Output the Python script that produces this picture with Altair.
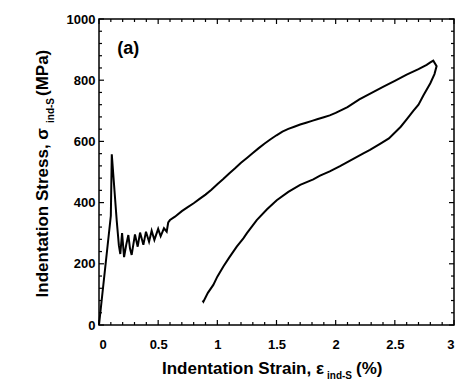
import altair as alt
import pandas as pd

# Loading branch (strain %, stress MPa)
load_x = [0.0, 0.100, 0.108, 0.150, 0.168, 0.180, 0.195, 0.212, 0.230, 0.248, 0.262, 0.276,
          0.304, 0.327, 0.347, 0.375, 0.397, 0.423, 0.445, 0.468, 0.500, 0.521, 0.549,
          0.572, 0.585, 0.600, 0.642, 0.700, 0.750, 0.800, 0.850, 0.900, 0.950, 1.000,
          1.050, 1.100, 1.150, 1.200, 1.250, 1.300, 1.350, 1.400, 1.450, 1.500, 1.550,
          1.600, 1.650, 1.700, 1.750, 1.800, 1.850, 1.900, 1.950, 2.000, 2.100, 2.200,
          2.300, 2.400, 2.500, 2.600, 2.700, 2.769, 2.800, 2.825]
load_y = [0, 357, 558, 340, 260, 232, 300, 222, 262, 294, 250, 229,
          296, 256, 302, 262, 305, 272, 308, 278, 314, 290, 316,
          305, 335, 343, 354, 372, 385, 398, 412, 426, 442, 460,
          477, 495, 512, 530, 546, 562, 578, 593, 607, 620, 632,
          641, 648, 655, 661, 667, 673, 679, 685, 693, 712, 737,
          758, 778, 798, 818, 836, 850, 858, 864]

# Unloading branch
unload_x = [2.853, 2.835, 2.800, 2.741, 2.700, 2.656, 2.600, 2.550, 2.450, 2.375, 2.290,
            2.234, 2.149, 2.037, 1.950, 1.868, 1.811, 1.700, 1.600, 1.502, 1.420, 1.333,
            1.250, 1.220, 1.164, 1.100, 1.051, 1.000, 0.966, 0.920, 0.882, 0.875]
unload_y = [846, 820, 790, 750, 720, 700, 672, 648, 610, 592, 572,
            561, 543, 519, 502, 488, 476, 458, 435, 408, 378, 343,
            300, 283, 256, 220, 191, 158, 131, 105, 76, 80]

x_major = [0, 0.5, 1, 1.5, 2, 2.5, 3]
x_minor = [0.1, 0.2, 0.3, 0.4, 0.6, 0.7, 0.8, 0.9, 1.1, 1.2, 1.3, 1.4, 1.6, 1.7, 1.8, 1.9,
           2.1, 2.2, 2.3, 2.4, 2.6, 2.7, 2.8, 2.9]
y_major = [0, 200, 400, 600, 800, 1000]
y_minor = [40, 80, 120, 160, 240, 280, 320, 360, 440, 480, 520, 560, 640, 680, 720, 760,
           840, 880, 920, 960]

W, H = 355, 306
FONT = "Liberation Sans"

xs = load_x + unload_x
ys = load_y + unload_y
df = pd.DataFrame({"x": xs, "y": ys, "i": list(range(len(xs)))})

xscale = alt.Scale(domain=[0, 3], nice=False)
yscale = alt.Scale(domain=[0, 1000], nice=False)
xaxis = alt.Axis(values=x_major, labelExpr="datum.value", ticks=False, domain=False,
                 grid=False, title=None, labelFont=FONT, labelFontSize=13,
                 labelFontWeight="bold", labelColor="black", labelPadding=13)
yaxis = alt.Axis(values=y_major, format="d", ticks=False, domain=False, grid=False,
                 title=None, labelFont=FONT, labelFontSize=13,
                 labelFontWeight="bold", labelColor="black", labelPadding=4)

line = alt.Chart(df).mark_line(color="black", strokeWidth=2).encode(
    x=alt.X("x:Q", scale=xscale, axis=xaxis, title=None),
    y=alt.Y("y:Q", scale=yscale, axis=yaxis, title=None),
    order="i:Q",
)


def xticks(vals, length, top):
    d = pd.DataFrame({"x": vals})
    if top:
        y1, y2 = 0, length
    else:
        y1, y2 = H, H - length
    return alt.Chart(d).mark_rule(color="black", strokeWidth=1.2).encode(
        x=alt.X("x:Q", scale=xscale, axis=xaxis, title=None),
        y=alt.value(y1), y2=alt.value(y2))


def yticks(vals, length, right):
    d = pd.DataFrame({"y": vals})
    if right:
        x1, x2 = W, W - length
    else:
        x1, x2 = 0, length
    return alt.Chart(d).mark_rule(color="black", strokeWidth=1.2).encode(
        y=alt.Y("y:Q", scale=yscale, axis=yaxis, title=None),
        x=alt.value(x1), x2=alt.value(x2))


tick_layers = [
    xticks(x_major, 5, False), xticks(x_minor, 3, False),
    xticks(x_major, 5, True), xticks(x_minor, 3, True),
    yticks(y_major, 5, False), yticks(y_minor, 3, False),
    yticks(y_major, 5, True), yticks(y_minor, 3, True),
]

label_a = alt.Chart(pd.DataFrame({"x": [0.155], "y": [886], "t": ["(a)"]})).mark_text(
    font=FONT, fontSize=18, fontWeight="bold", align="left", baseline="alphabetic",
    color="black").encode(x=alt.X("x:Q", scale=xscale, axis=xaxis, title=None),
                          y=alt.Y("y:Q", scale=yscale, axis=yaxis, title=None), text="t:N")


def txt(s, x, y, size, align, angle=0):
    return alt.Chart(pd.DataFrame({"t": [s]})).mark_text(
        font=FONT, fontSize=size, fontWeight="bold", align=align, baseline="alphabetic",
        color="black", angle=angle).encode(x=alt.value(x), y=alt.value(y), text="t:N")


titles = [
    txt("Indentation Strain, \u03b5", 225, 355, 17, "right"),
    txt("ind-S", 228, 360, 10, "left"),
    txt("(%)", 257, 355, 17, "left"),
    txt("Indentation Stress, \u03c3", -51, 109, 17, "right", 270),
    txt("ind-S", -45, 104, 10, "left", 270),
    txt("(MPa)", -51, 77, 17, "left", 270),
]

chart = alt.layer(line, *tick_layers, label_a, *titles).properties(
    width=W, height=H,
    autosize=alt.AutoSizeParams(type="none"),
    padding={"left": 91, "top": 11, "right": 12, "bottom": 56},
).configure_view(stroke="black", strokeWidth=1.5)

chart.save("out.html", embed_options={"renderer": "svg", "actions": False})
